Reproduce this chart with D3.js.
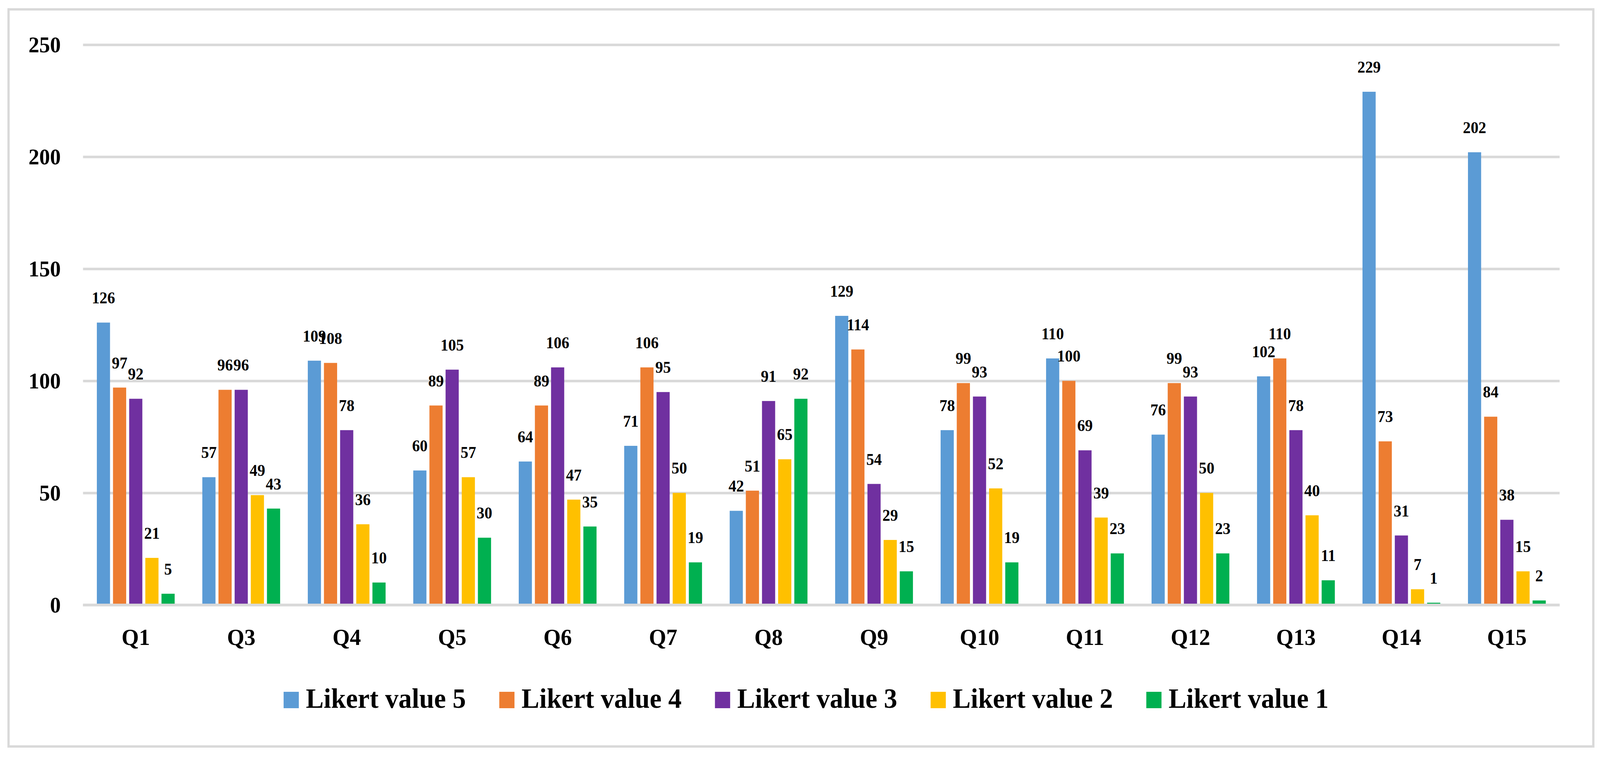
<!DOCTYPE html>
<html>
<head>
<meta charset="utf-8">
<script src="https://cdn.jsdelivr.net/npm/d3@7"></script>
<style>
  html, body { margin: 0; padding: 0; width: 100%; height: 100%; overflow: hidden; background: #fff; }
  #chart { display: block; width: 100vw; height: 100vh; }
  text { font-family: "Liberation Serif", "Times New Roman", serif; font-weight: bold; fill: #000; }
</style>
</head>
<body>
<svg id="chart" viewBox="0 0 4317 1939" preserveAspectRatio="none"></svg>
<script>
var categories = ["Q1", "Q3", "Q4", "Q5", "Q6", "Q7", "Q8", "Q9", "Q10", "Q11", "Q12", "Q13", "Q14", "Q15"]

var likert5 = [126, 57, 109, 60, 64, 71, 42, 129, 78, 110, 76, 102, 229, 202]
var likert4 = [97, 96, 108, 89, 89, 106, 51, 114, 99, 100, 99, 110, 73, 84]
var likert3 = [92, 96, 78, 105, 106, 95, 91, 54, 93, 69, 93, 78, 31, 38]
var likert2 = [21, 49, 36, 57, 47, 50, 65, 29, 52, 39, 50, 40, 7, 15]
var likert1 = [5, 43, 10, 30, 35, 19, 92, 15, 19, 23, 23, 11, 1, 2]

var seriesNames = ["Likert value 5", "Likert value 4", "Likert value 3", "Likert value 2", "Likert value 1"]
var seriesValues = [likert5, likert4, likert3, likert2, likert1]
var yTicks = [0, 50, 100, 150, 200, 250]

var colors = ["#5B9BD5", "#ED7D31", "#7030A0", "#FFC000", "#00B050"]
var gridColor = "#d9d9d9"

var svg = d3.select("#chart")

// outer frame
svg.append("rect")
    .attr("x", 23).attr("y", 24)
    .attr("width", 4299 - 23).attr("height", 1912 - 24)
    .attr("fill", "none")
    .attr("stroke", gridColor)
    .attr("stroke-width", 6)

var plotLeft = 224, plotRight = 4208, plotTop = 114.5, plotBottom = 1549.5

var x0 = d3.scaleBand().domain(categories).range([plotLeft, plotRight]).padding(0)
var x1 = d3.scaleBand().domain(seriesNames).range([0, x0.bandwidth()])
            .paddingInner(0.185).paddingOuter(0.856)
var y = d3.scaleLinear().domain([0, 250]).range([plotBottom, plotTop])
var color = d3.scaleOrdinal().domain(seriesNames).range(colors)

// y axis + gridlines
var yAxis = svg.append("g")
    .attr("transform", "translate(" + plotLeft + ",0)")
    .call(d3.axisLeft(y).tickValues(yTicks).tickSize(-(plotRight - plotLeft)).tickPadding(60))
yAxis.select(".domain").remove()
yAxis.selectAll("line").attr("stroke", gridColor).attr("stroke-width", 6.5)
yAxis.selectAll("text")
    .style("font-family", "Liberation Serif, serif")
    .style("font-weight", "bold")
    .style("font-size", "58px")
    .attr("fill", "#000")

// table built from the arrays
var rows = categories.map(function(c, i) {
    return { cat: c, vals: seriesNames.map(function(s, j) { return { key: s, value: seriesValues[j][i] } }) }
})

var groups = svg.selectAll("g.grp")
    .data(rows).enter()
    .append("g")
        .attr("class", "grp")
        .attr("transform", function(d) { return "translate(" + x0(d.cat) + ",0)" })

groups.selectAll("rect")
    .data(function(d) { return d.vals }).enter()
    .append("rect")
        .attr("x", function(d) { return x1(d.key) })
        .attr("y", function(d) { return y(d.value) })
        .attr("width", x1.bandwidth())
        .attr("height", function(d) { return y(0) - y(d.value) })
        .attr("fill", function(d) { return color(d.key) })

groups.selectAll("text.val")
    .data(function(d) { return d.vals }).enter()
    .append("text")
        .attr("class", "val")
        .attr("x", function(d) { return x1(d.key) + x1.bandwidth() / 2 })
        .attr("y", function(d) { return y(d.value) - 49 })
        .attr("text-anchor", "middle")
        .style("font-size", "42px")
        .text(function(d) { return d.value })

// zero line on top of bars
svg.append("line")
    .attr("x1", plotLeft).attr("x2", plotRight)
    .attr("y1", y(0)).attr("y2", y(0))
    .attr("stroke", gridColor)
    .attr("stroke-width", 6.5)

// x axis labels
var xAxis = svg.append("g")
    .attr("transform", "translate(0," + y(0) + ")")
    .call(d3.axisBottom(x0).tickSize(0).tickPadding(60))
xAxis.select(".domain").remove()
xAxis.selectAll("text")
    .style("font-family", "Liberation Serif, serif")
    .style("font-weight", "bold")
    .style("font-size", "60px")
    .attr("fill", "#000")

// legend
var legend = svg.append("g")
var items = legend.selectAll("g.item")
    .data(seriesNames).enter()
    .append("g").attr("class", "item")

items.append("rect")
    .attr("width", 41).attr("height", 42)
    .attr("y", 1772)
    .attr("fill", function(d) { return color(d) })

items.append("text")
    .attr("x", 60)
    .attr("y", 1813)
    .style("font-size", "72px")
    .text(function(d) { return d })

var widths = []
items.each(function() { widths.push(60 + d3.select(this).select("text").node().getComputedTextLength()) })
var itemGap = 90
var total = d3.sum(widths) + itemGap * (widths.length - 1)
var startX = 2175 - total / 2
var acc = startX
items.attr("transform", function(d, i) {
    var t = "translate(" + acc + ",0)"
    acc += widths[i] + itemGap
    return t
})
</script>
</body>
</html>
